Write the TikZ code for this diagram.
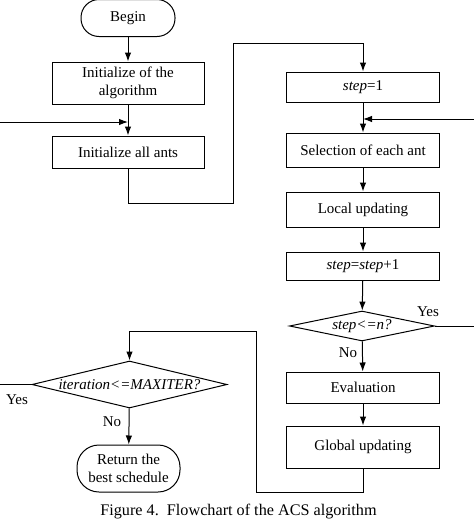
\documentclass[tikz,border=0pt]{standalone}
\usepackage{fontspec}
\setmainfont{Liberation Serif}
\usetikzlibrary{shapes.geometric}
\usetikzlibrary{arrows.meta}
\usetikzlibrary{positioning}

\begin{document}
\begin{tikzpicture}[x=1pt,y=-1pt,font=\fontsize{15}{18.5}\selectfont]
	%\draw[help lines] (0,0) grid (474,520);
	\useasboundingbox (0,0) rectangle (474,520);

	\tikzstyle{inode} = [inner sep=0pt]
	\tikzstyle{pnode} = [rectangle,draw,line width=1pt,fill=white,minimum width=153pt,inner sep=1pt,align=center]
	\tikzstyle{tnode} = [rectangle,draw,line width=1pt,fill=white,inner sep=1pt,align=center]
	\tikzstyle{dnode} = [diamond,draw,line width=1pt,fill=white,inner sep=0pt,aspect=4.5]
	\tikzstyle{vedge} = [->,>={Latex[length=9pt,width=6.5pt]},line width=1pt]

	\node[tnode,minimum width=94pt,minimum height=37pt,rounded corners=18pt] (begin) at (128,18) {Begin};
	\node[pnode,minimum width=152pt,minimum height=42pt] (initalg) at (128,83) {Initialize of the\\algorithm};
	\node[pnode,minimum width=152pt,minimum height=32pt] (initants) at (128,152) {Initialize all ants};

	\node[pnode,minimum height=30pt] (step1) at (363,87) {\textit{step}=1};
	\node[pnode,minimum height=34pt] (select) at (363,150) {Selection of each ant};
	\node[pnode,minimum height=35pt] (local) at (363,209.5) {Local updating};
	\node[pnode,minimum height=28pt] (inc) at (363,266) {\textit{step}=\textit{step}+1};
	\node[dnode,minimum width=145pt,minimum height=30pt] (stepq) at (362,326) {\textit{step<=n?}};
	\node[pnode,minimum height=31pt] (eval) at (363,387.5) {Evaluation};
	\node[pnode,minimum height=42pt] (global) at (363,447) {Global updating};

	\node[dnode,minimum width=195pt,minimum height=47pt,aspect=4.1] (iterq) at (129.5,384.5) {\textit{iteration<=MAXITER?}};
	\node[tnode,minimum width=103pt,minimum height=47pt,rounded corners=22pt] (ret) at (128.5,468.5) {Return the\\best schedule};

	\node[inode] (yesr) at (428,312) {Yes};
	\node[inode] (nor) at (348,353) {No};
	\node[inode] (yesl) at (17,400) {Yes};
	\node[inode] (nol) at (112,422) {No};

	\node[inode,anchor=base,font=\fontsize{16.2}{18}\selectfont] (cap) at (238.5,515.5) {Figure 4.\ \ Flowchart of the ACS algorithm};

	\coordinate (inl) at (0,122);
	\coordinate (jl) at (128,122);
	\coordinate (inr) at (474,119);
	\coordinate (jr) at (363,119);
	\coordinate (outr) at (474,326);
	\coordinate (outl) at (0,384.5);
	\coordinate (c1) at (233,203);
	\coordinate (c2) at (233,43);
	\coordinate (c3) at (256,492);
	\coordinate (c4) at (256,331);

	\draw (begin) edge [vedge] (initalg);
	\draw (initalg) edge [vedge] (initants);
	\draw (inl) edge [vedge] (jl);
	\draw[vedge] (initants) |- (c1) -- (c2) -| (step1);
	\draw (step1) edge [vedge] (select);
	\draw (inr) edge [vedge] (jr);
	\draw (select) edge [vedge] (local);
	\draw (local) edge [vedge] (inc);
	\draw (inc) edge [vedge] (stepq);
	\draw (stepq) edge [vedge] (eval);
	\draw (eval) edge [vedge] (global);
	\draw[line width=1pt] (stepq.east) -- (outr);
	\draw[vedge] (global) |- (c3) -- (c4) -| (iterq);
	\draw[line width=1pt] (iterq.west) -- (outl);
	\draw (iterq) edge [vedge] (ret);

\end{tikzpicture}
\end{document}
